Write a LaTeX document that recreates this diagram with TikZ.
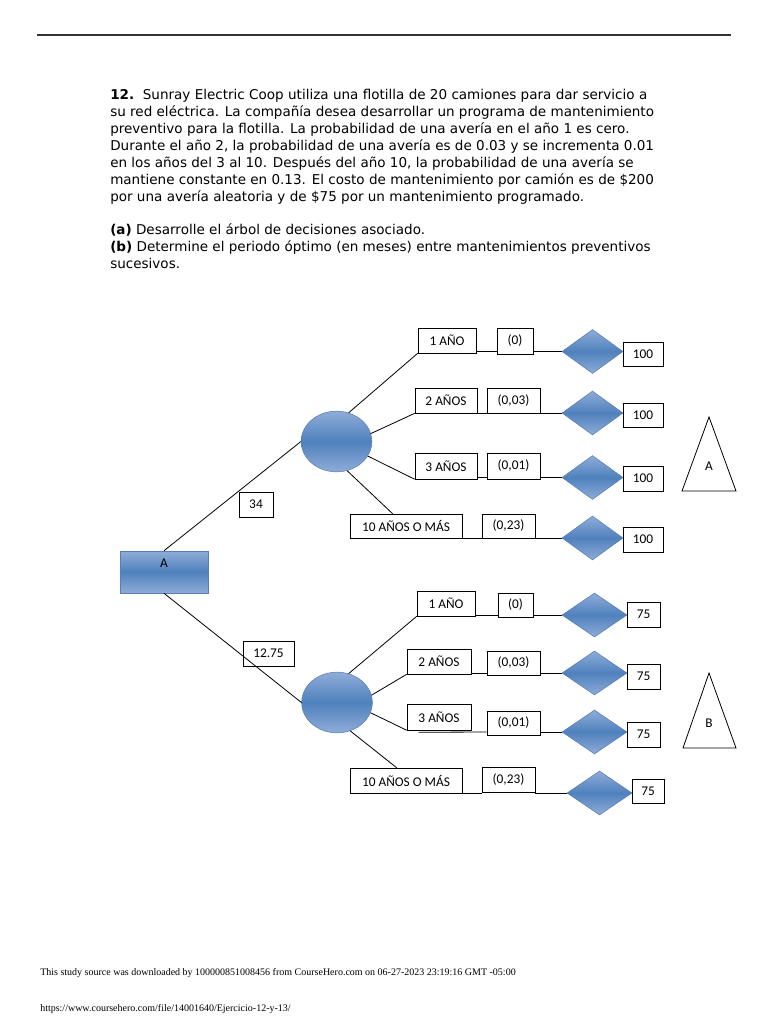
\documentclass[tikz,border=0pt]{standalone}
\usepackage{fontspec}
\setmainfont{DejaVu Sans}
\newfontfamily\lblfont{Carlito}
\newfontfamily\srcfont{Liberation Serif}
\usetikzlibrary{shapes.geometric}
\definecolor{nodeLt}{RGB}{143,172,216}
\definecolor{nodeMd}{RGB}{79,129,189}
\definecolor{nodeBd}{RGB}{88,126,182}
\tikzset{
  para/.style={anchor=base west,inner sep=0pt,font=\fontsize{10.15}{12}\selectfont},
  src/.style={anchor=base west,inner sep=0pt,font=\srcfont\fontsize{7.5}{9}\selectfont},
  sz/.style 2 args={minimum width=#1*0.75pt,minimum height=#2*0.75pt},
  lbl/.style={draw,fill=white,inner sep=0pt,font=\lblfont\fontsize{10}{12}\selectfont},
  blue fill/.style={draw=nodeBd,top color=nodeLt,bottom color=nodeLt,middle color=nodeMd},
  decision/.style={blue fill,rectangle,inner sep=0pt},
  chance/.style={blue fill,ellipse,inner sep=0pt,minimum width=53pt,minimum height=45.5pt},
  leaf/.style={blue fill,diamond,inner sep=0pt,minimum width=45.75pt,minimum height=33pt},
  edge/.style={line width=0.6pt}
}
\begin{document}
\begin{tikzpicture}[x=0.75pt,y=-0.75pt]
\useasboundingbox (0,0) rectangle (768,1024);
% encabezado
\draw[line width=0.8pt,black!80] (37,35) -- (731,35);
% enunciado
\node[para] (t1) at (110,99) {\textbf{12.}\ \ Sunray Electric Coop utiliza una flotilla de 20 camiones para dar servicio a};
\node[para] (t2) at (110,116) {su red eléctrica. La compañía desea desarrollar un programa de mantenimiento};
\node[para] (t3) at (110,133) {preventivo para la flotilla. La probabilidad de una avería en el año 1 es cero.};
\node[para] (t4) at (110,150) {Durante el año 2, la probabilidad de una avería es de 0.03 y se incrementa 0.01};
\node[para] (t5) at (110,167) {en los años del 3 al 10. Después del año 10, la probabilidad de una avería se};
\node[para] (t6) at (110,184) {mantiene constante en 0.13. El costo de mantenimiento por camión es de \$200};
\node[para] (t7) at (110,201) {por una avería aleatoria y de \$75 por un mantenimiento programado.};
\node[para] (qa) at (110,234) {\textbf{(a)} Desarrolle el árbol de decisiones asociado.};
\node[para] (qb) at (110,251) {\textbf{(b)} Determine el periodo óptimo (en meses) entre mantenimientos preventivos};
\node[para] (qc) at (110,268) {sucesivos.};
% nodo de decision
\node[decision,sz={88}{42}] (root) at (164,572) {};
\node[font=\lblfont\fontsize{10}{12}\selectfont] (rootA) at (164,563) {A};
% nodos de azar
\node[chance] (c1) at (336.5,441.5) {};
\node[chance] (c2) at (337,702.5) {};
\node[lbl,sz={34}{25}] (v1) at (256,504.5) {34};
\node[lbl,sz={51}{25}] (v2) at (268.5,653.5) {12.75};
\draw[edge] (root.north) -- (c1.west);
\draw[edge] (root.south) -- (c2.west);
% rama superior
\node[lbl,sz={58}{25}] (u1) at (447,340.5) {1 AÑO};
\node[lbl,sz={62}{25}] (u2) at (446,400.5) {2 AÑOS};
\node[lbl,sz={62}{26}] (u3) at (446,466) {3 AÑOS};
\node[lbl,sz={112}{24}] (u4) at (406,526) {10 AÑOS O MÁS};
\node[lbl,sz={36}{26}] (up1) at (515,341) {(0)};
\node[lbl,sz={53}{25}] (up2) at (513.5,400.5) {(0,03)};
\node[lbl,sz={53}{26}] (up3) at (513.5,466) {(0,01)};
\node[lbl,sz={53}{24}] (up4) at (508.5,526) {(0,23)};
\node[leaf] (ud1) at (592.5,351.5) {};
\node[leaf] (ud2) at (592.5,413) {};
\node[leaf] (ud3) at (592.5,477.5) {};
\node[leaf] (ud4) at (592.5,538) {};
\node[lbl,sz={40}{24}] (uv1) at (643,354) {100};
\node[lbl,sz={40}{24}] (uv2) at (643,415) {100};
\node[lbl,sz={40}{25}] (uv3) at (643,478.5) {100};
\node[lbl,sz={40}{25}] (uv4) at (643,539.5) {100};
\draw[edge] (c1.67) -- (u1.south west);
\draw[edge] (c1.13) -- (u2.south west);
\draw[edge] (c1.335) -- (u3.south west);
\draw[edge] (c1.290) -- ([xshift=-10pt]u4.north);
\foreach \i in {1,...,4}{
  \draw[edge] (u\i.east |- ud\i.west) -- (up\i.west |- ud\i.west);
  \draw[edge] (up\i.east |- ud\i.west) -- (ud\i.west);
}
% rama inferior
\node[lbl,sz={58}{25}] (l1) at (446,603.5) {1 AÑO};
\node[lbl,sz={64}{25}] (l2) at (439,661.5) {2 AÑOS};
\node[lbl,sz={64}{26}] (l3) at (439,717) {3 AÑOS};
\node[lbl,sz={112}{25}] (l4) at (406,780.5) {10 AÑOS O MÁS};
\node[lbl,sz={35}{24}] (lp1) at (515.5,605) {(0)};
\node[lbl,sz={53}{24}] (lp2) at (513.5,663) {(0,03)};
\node[lbl,sz={53}{24}] (lp3) at (513.5,723) {(0,01)};
\node[lbl,sz={53}{25}] (lp4) at (508.5,779.5) {(0,23)};
\node[leaf,minimum width=48.75pt] (ld1) at (594.5,615) {};
\node[leaf,minimum width=48.75pt] (ld2) at (594.5,673) {};
\node[leaf,minimum width=48.75pt] (ld3) at (594.5,732) {};
\node[leaf,minimum width=48.75pt] (ld4) at (599.5,793) {};
\node[lbl,sz={33}{25}] (lv1) at (643.5,614.5) {75};
\node[lbl,sz={33}{25}] (lv2) at (643.5,676.5) {75};
\node[lbl,sz={33}{25}] (lv3) at (643.5,734.5) {75};
\node[lbl,sz={32}{24}] (lv4) at (648,791) {75};
\draw[edge] (c2.68) -- (l1.south west);
\draw[edge] (c2.12) -- (l2.south west);
\draw[edge] (c2.343) -- (l3.south west);
\draw[edge] (c2.295) -- ([xshift=-7pt]l4.north);
\foreach \i in {1,2,4}{
  \draw[edge] (l\i.east |- ld\i.west) -- (lp\i.west |- ld\i.west);
  \draw[edge] (lp\i.east |- ld\i.west) -- (ld\i.west);
}
\draw[edge] ([shift={(9pt,-1.5pt)}]l3.south west) -- (lp3.west |- ld3.west);
\draw[edge] (lp3.east |- ld3.west) -- (ld3.west);
% subarboles
\draw[edge] (709,417) -- (736,491) -- (682,491) -- cycle;
\node[font=\lblfont\fontsize{10}{12}\selectfont] (tA) at (709,466) {A};
\draw[edge] (709,673) -- (736,748) -- (683,748) -- cycle;
\node[font=\lblfont\fontsize{10}{12}\selectfont] (tB) at (709,723) {B};
% pie de pagina
\node[src] (f1) at (40,975) {This study source was downloaded by 100000851008456 from CourseHero.com on 06-27-2023 23:19:16 GMT -05:00};
\node[src] (f2) at (40,1011) {https://www.coursehero.com/file/14001640/Ejercicio-12-y-13/};
\end{tikzpicture}
\end{document}
